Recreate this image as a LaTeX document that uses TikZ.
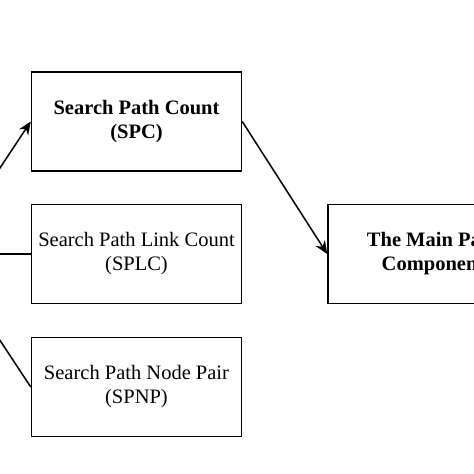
\documentclass[tikz,border=0pt]{standalone}
\usepackage{fontspec}
\setmainfont{Liberation Serif}
\usetikzlibrary{arrows.meta}
\begin{document}
\begin{tikzpicture}[
    x=1pt, y=-1pt,
    mbox/.style={draw=black, line width=1.5pt, minimum width=210pt, minimum height=99pt, align=center, inner sep=0pt, font=\fontsize{20.5}{24}\selectfont},
    bbox/.style={mbox, font=\fontsize{20.5}{24}\selectfont\bfseries},
    link/.style={line width=1.5pt, draw=black},
    arr/.style={link, -{Stealth[length=13pt, width=11pt]}},
]
\clip (0,0) rectangle (474,474);
\fill[white] (0,0) rectangle (474,474);

\coordinate (src) at (-57,254);
\node[bbox] (spc) at (136.5,121.5) {Search Path Count\\(SPC)};
\node[mbox] (splc) at (136.5,254) {Search Path Link Count\\(SPLC)};
\node[mbox] (spnp) at (136.5,387) {Search Path Node Pair\\(SPNP)};
\node[bbox] (mainpath) at (433,254) {The Main Path\\Component};

\draw[arr] (src) -- (spc.west);
\draw[link] (src) -- (splc.west);
\draw[link] (src) -- (spnp.west);
\draw[arr] (spc.east) -- (mainpath.west);
\end{tikzpicture}
\end{document}
